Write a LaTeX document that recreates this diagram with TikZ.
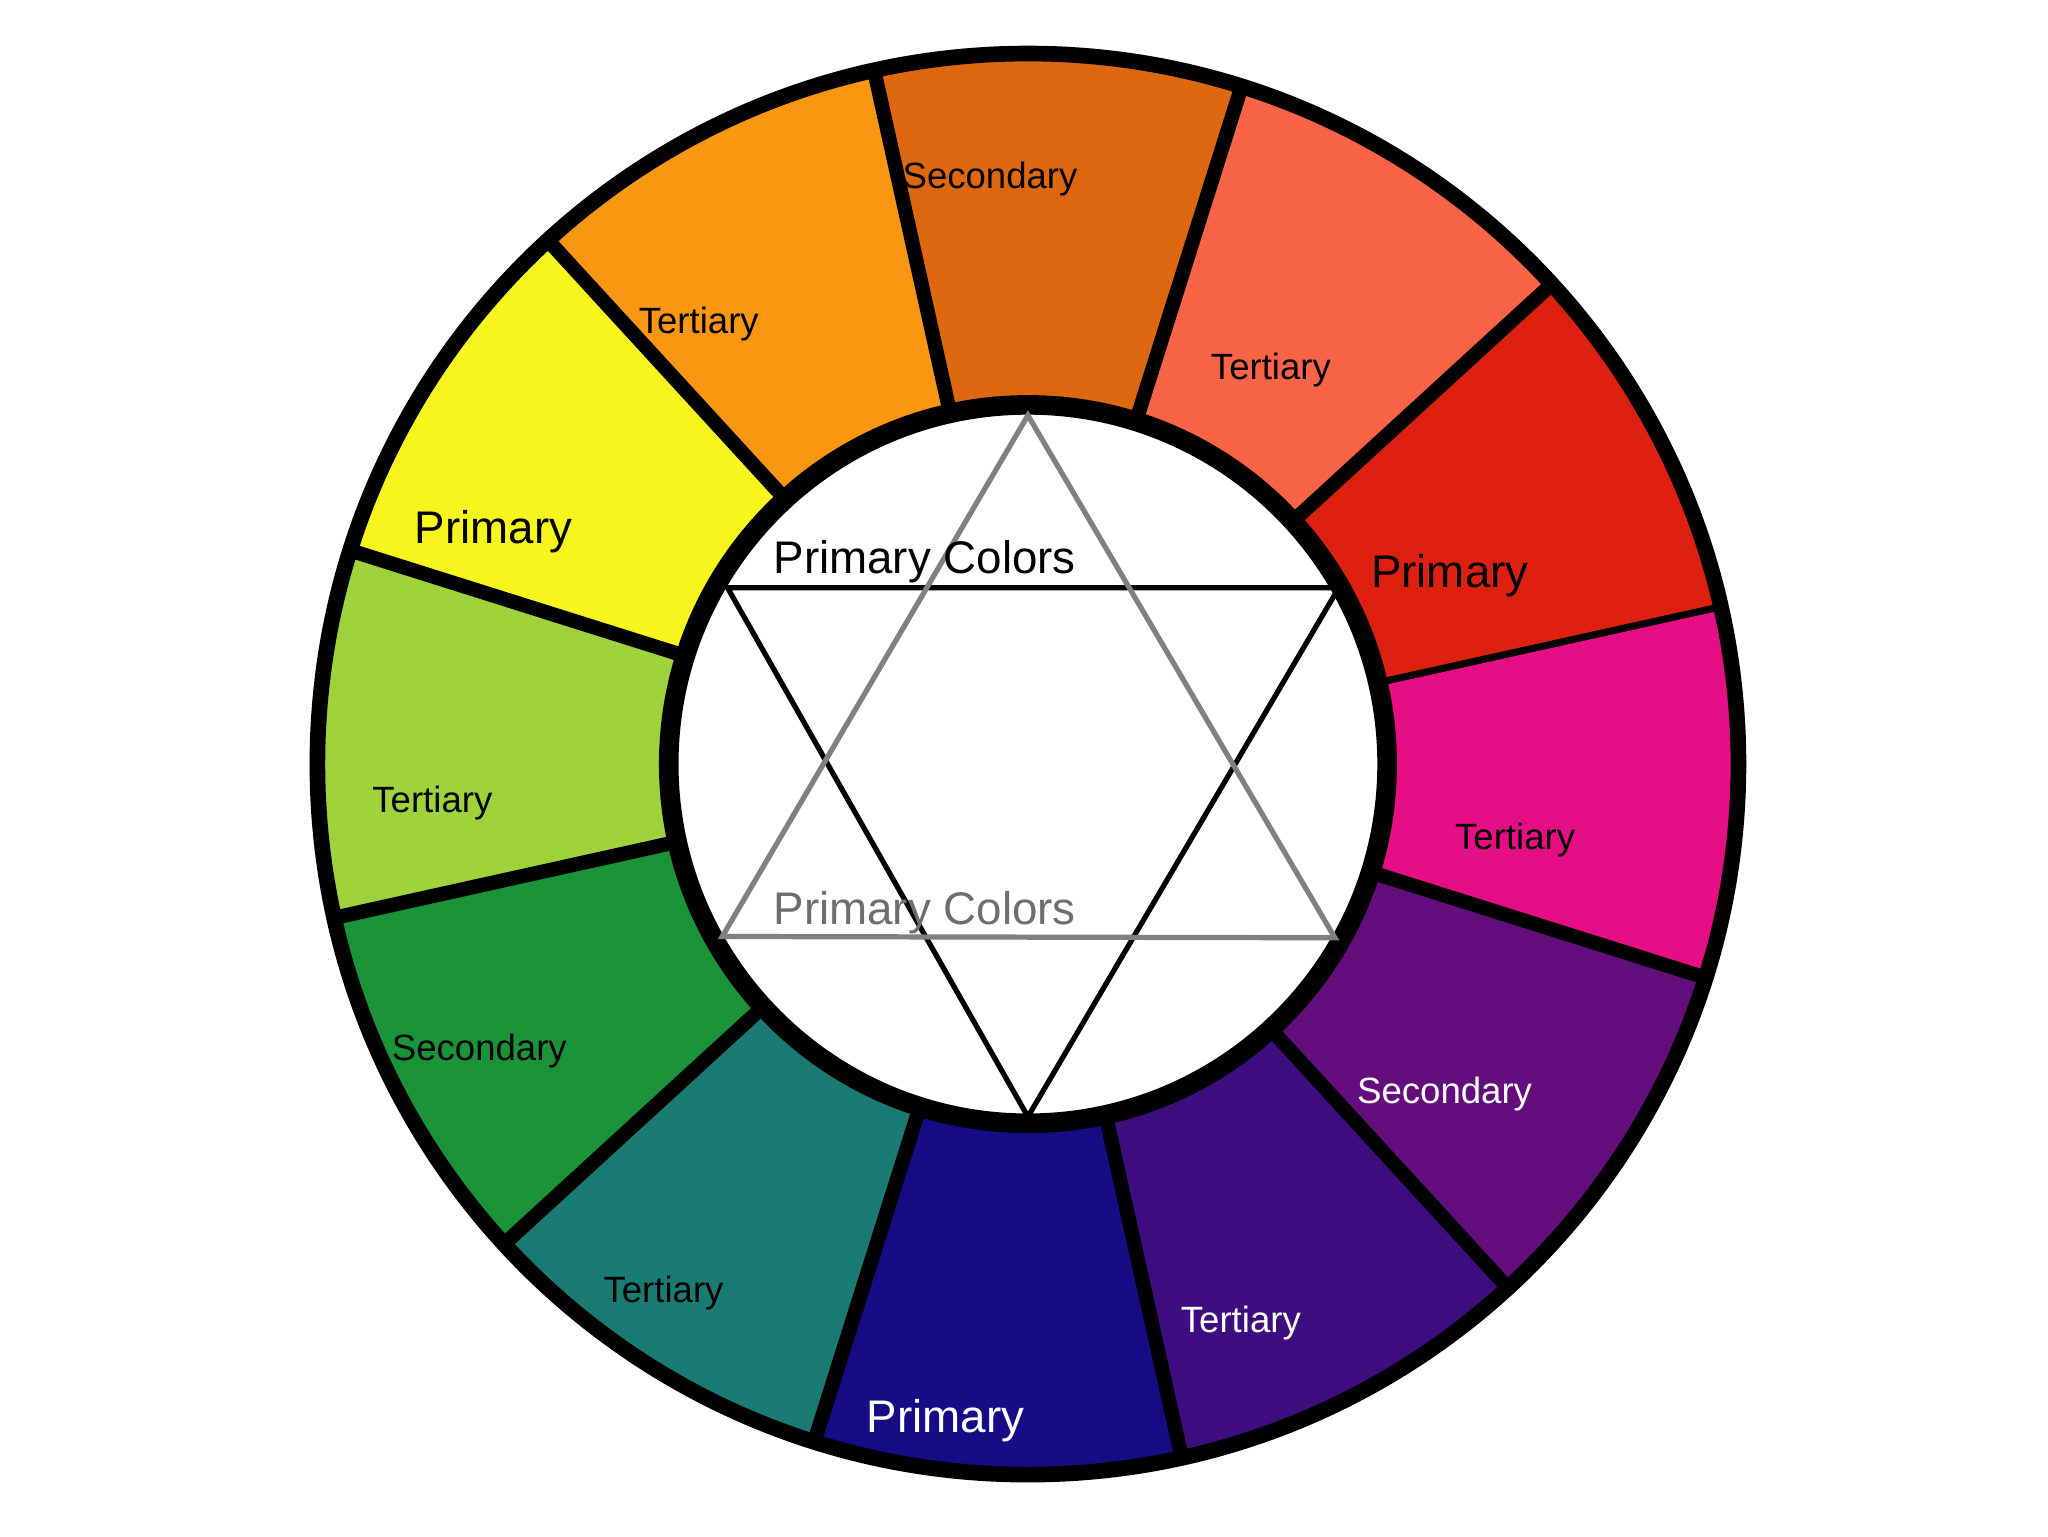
\documentclass[tikz,border=0pt]{standalone}
\usepackage{fontspec}
\setmainfont{Liberation Sans}
\usetikzlibrary{calc}
\begin{document}
\begin{tikzpicture}[x=1pt,y=1pt,
  lbl/.style={font=\fontsize{28}{30}\selectfont},
  big/.style={font=\fontsize{35}{38}\selectfont}]
\useasboundingbox[fill=white] (0,0) rectangle (1568,1176);
\coordinate (C) at (787,591);
\def\Ri{275}\def\Ro{544}
\definecolor{c1}{HTML}{DD2010}\definecolor{c2}{HTML}{FA6446}
\definecolor{c3}{HTML}{DE6810}\definecolor{c4}{HTML}{F99712}
\definecolor{c5}{HTML}{F7F51E}\definecolor{c6}{HTML}{A0D23C}
\definecolor{c7}{HTML}{1A9339}\definecolor{c8}{HTML}{1A7B73}
\definecolor{c9}{HTML}{170C86}\definecolor{c10}{HTML}{3E0E80}
\definecolor{c11}{HTML}{640E7E}\definecolor{c12}{HTML}{E60E85}
\definecolor{gline}{RGB}{128,128,128}
\definecolor{gtext}{RGB}{110,110,110}
\foreach \i in {1,...,12}{
  \pgfmathsetmacro\a{12.5+30*(\i-1)}
  \pgfmathsetmacro\b{\a+30}
  \fill[c\i] ($(C)+(\a:\Ri)$) -- ($(C)+(\a:\Ro)$) arc[start angle=\a,end angle=\b,radius=\Ro] -- ($(C)+(\b:\Ri)$) arc[start angle=\b,end angle=\a,radius=\Ri] -- cycle;
  \draw[line width=11pt] ($(C)+(\a:\Ri)$) -- ($(C)+(\a:\Ro)$);
}
\draw[line width=12pt] (C) circle[radius=\Ro];
\draw[line width=15pt,fill=white] (C) circle[radius=\Ri];
\coordinate (b1) at (557,726);\coordinate (b2) at (1025,726);\coordinate (b3) at (787,321);
\coordinate (g1) at (787,858);\coordinate (g2) at (553,459);\coordinate (g3) at (1022,458);
\draw[line width=4pt] (b1)--(b2)--(b3)--cycle;
\draw[line width=4pt,gline] (g1)--(g2)--(g3)--cycle;
\node[big] (pc1) at (708,746) {Primary Colors};
\node[big,text=gtext] (pc2) at (708,477) {Primary Colors};
\node[lbl] (s1) at (758,1039) {Secondary};
\node[lbl] (t1) at (535,928) {Tertiary};
\node[big] (p1) at (378,769) {Primary};
\node[lbl] (t2) at (973,893) {Tertiary};
\node[big] (p2) at (1110,735) {Primary};
\node[lbl] (t3) at (331,561) {Tertiary};
\node[lbl] (t4) at (1160,533) {Tertiary};
\node[lbl] (s2) at (367,371) {Secondary};
\node[lbl,text=white] (s3) at (1106,338) {Secondary};
\node[lbl] (t5) at (508,186) {Tertiary};
\node[lbl,text=white] (t6) at (950,163) {Tertiary};
\node[big,text=white] (p3) at (724,88) {Primary};
\end{tikzpicture}
\end{document}
